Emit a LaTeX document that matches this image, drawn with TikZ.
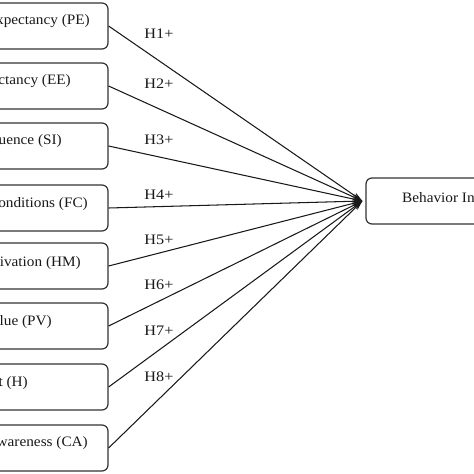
\documentclass[tikz,border=0pt]{standalone}
\usepackage{fontspec}
\setmainfont{Liberation Serif}
\newfontfamily\boxfont{Liberation Serif}[FakeStretch=1.06]
\newfontfamily\hfont{Liberation Serif}[FakeStretch=1.12]
\usetikzlibrary{arrows.meta}
\tikzset{
  cbox/.style={draw=black!80, line width=1.2pt, rounded corners=6pt, minimum width=170pt, minimum height=46pt, inner sep=0pt},
  ctext/.style={anchor=east, inner sep=0pt, text=black!90, font=\boxfont\fontsize{14.4}{16}\selectfont},
  hlab/.style={inner sep=0pt, text=black!90, font=\hfont\fontsize{14.5}{16}\selectfont},
  conn/.style={draw=black!90, line width=1.05pt, -{Stealth[length=10pt,width=6pt]}}
}
\begin{document}
\begin{tikzpicture}[x=1pt,y=-1pt]
\path[use as bounding box] (0,0) rectangle (474,474);
\clip (0,0) rectangle (474,474);
\fill[white] (0,0) rectangle (474,474);
% left boxes
\node[cbox] (b1) at (23,26) {};
\node[cbox] (b2) at (23,86) {};
\node[cbox] (b3) at (23,146) {};
\node[cbox] (b4) at (23,208) {};
\node[cbox] (b5) at (23,266) {};
\node[cbox] (b6) at (23,326) {};
\node[cbox] (b7) at (23,387) {};
\node[cbox] (b8) at (23,448) {};
\node[ctext] (t1) at (90,21) {Performance Expectancy (PE)};
\node[ctext] (t2) at (71,81) {Effort Expectancy (EE)};
\node[ctext] (t3) at (62,141) {Social Influence (SI)};
\node[ctext] (t4) at (88,204) {Facilitating Conditions (FC)};
\node[ctext] (t5) at (81,263) {Hedonic Motivation (HM)};
\node[ctext] (t6) at (52,322) {Price Value (PV)};
\node[ctext] (t7) at (28,383) {Habit (H)};
\node[ctext] (t8) at (88,443) {Cybersecurity Awareness (CA)};
% right box
\node[cbox, minimum width=160pt] (bi) at (446,201) {};
\node[ctext, anchor=west] (ti) at (402,198) {Behavior Intention};
% connectors
\foreach \i in {1,...,8}{
  \draw[conn] (b\i.east) -- ([xshift=-3pt]bi.west);
}
% labels
\node[hlab] (h1) at (159,34) {H1+};
\node[hlab] (h2) at (159,84) {H2+};
\node[hlab] (h3) at (159,140) {H3+};
\node[hlab] (h4) at (159,195) {H4+};
\node[hlab] (h5) at (159,240) {H5+};
\node[hlab] (h6) at (159,285) {H6+};
\node[hlab] (h7) at (159,331) {H7+};
\node[hlab] (h8) at (159,377) {H8+};
\end{tikzpicture}
\end{document}
